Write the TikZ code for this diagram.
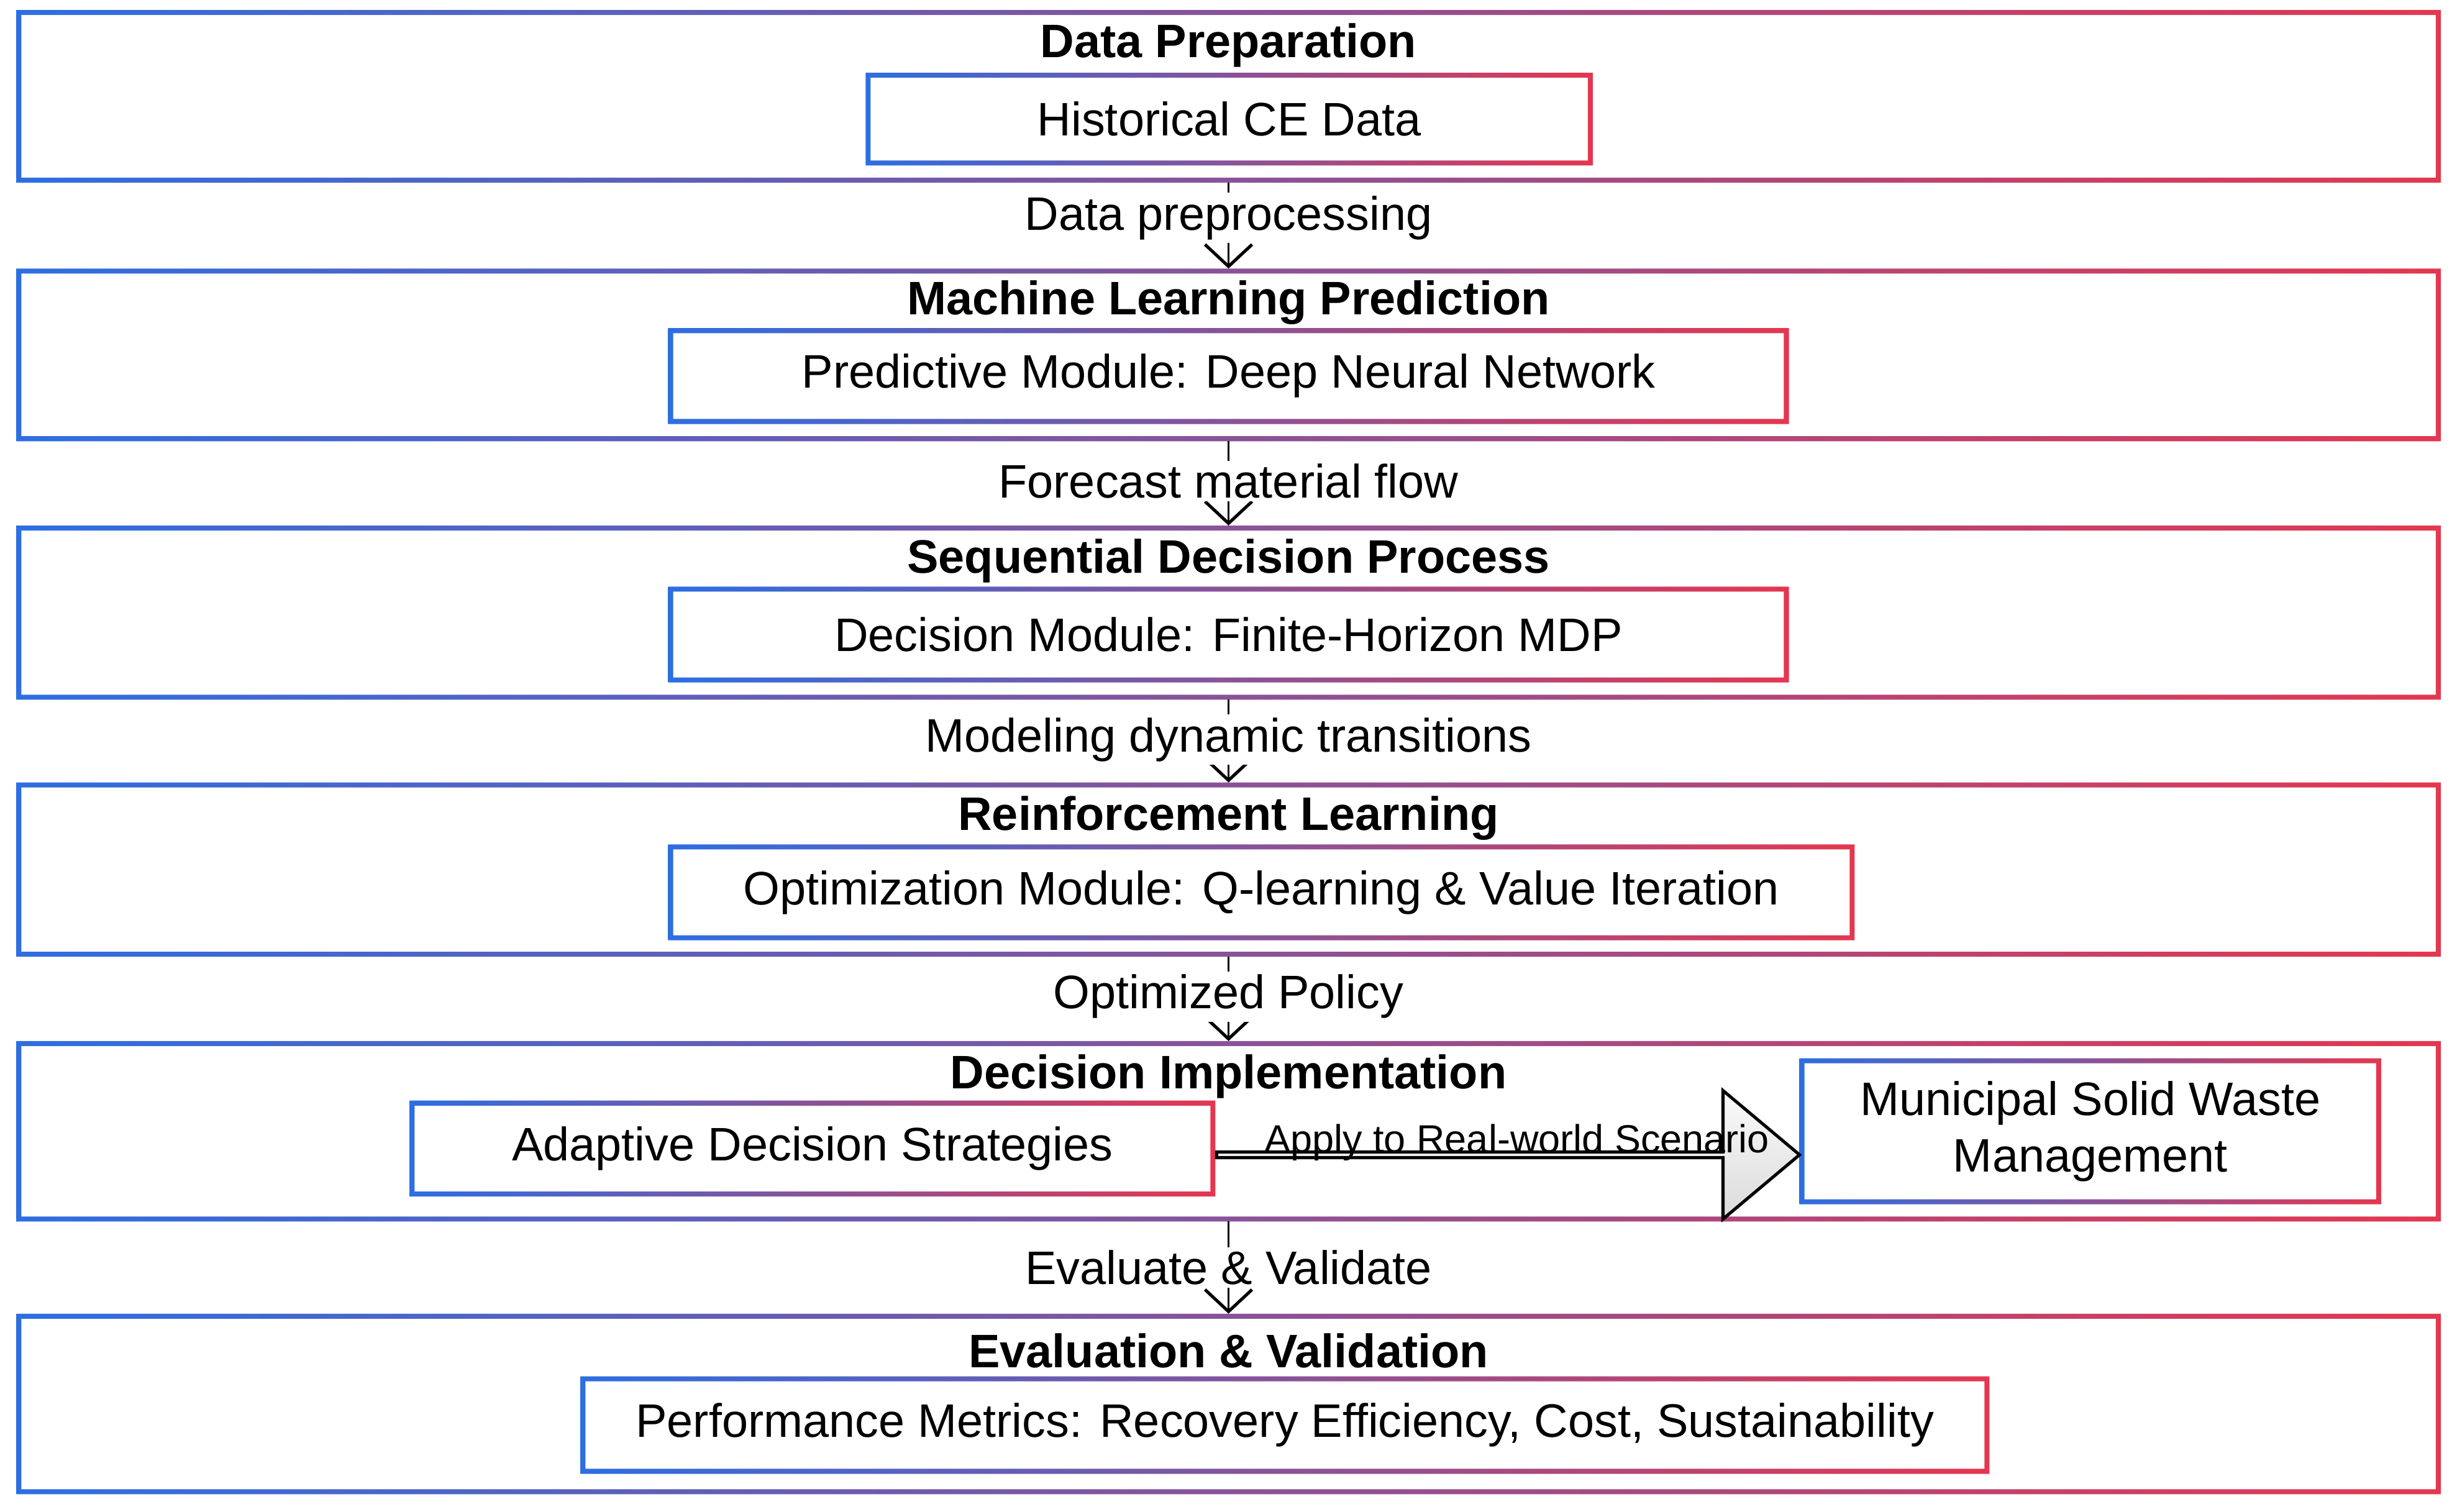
\documentclass[tikz,border=0pt]{standalone}
\usepackage{fontspec}
\setmainfont{Liberation Sans}
\usetikzlibrary{arrows.meta,calc,shapes.arrows}
\definecolor{bl}{RGB}{45,110,225}
\definecolor{rd}{RGB}{228,55,80}
\newcommand{\gborder}[1]{%
  \shade[left color=bl,right color=rd,even odd rule]
    ($(#1.south west)+(-1.6pt,-1.6pt)$) rectangle ($(#1.north east)+(1.6pt,1.6pt)$)
    (#1.south west) rectangle (#1.north east);}
\tikzset{
  outerbox/.style={minimum width=770pt,inner sep=0pt,fill=white},
  innerbox/.style={minimum height=27pt,inner sep=0pt,fill=white,font=\fontsize{15}{18}\selectfont},
  ttl/.style={font=\fontsize{15}{18}\selectfont\bfseries,inner sep=0pt},
  lbl/.style={font=\fontsize{15}{18}\selectfont,fill=white,inner sep=1pt},
  conn/.style={line width=0.7pt,-{Straight Barb[width=15pt,length=7pt,line width=1pt]}}
}
\begin{document}
\begin{tikzpicture}[x=0.5pt,y=-0.5pt]
\useasboundingbox[fill=white] (0,0) rectangle (1568,964.6);
% outer boxes
\node[outerbox,minimum height=51.5pt] (o1) at (784,61.5) {};
\node[outerbox,minimum height=51.5pt] (o2) at (784,226.5) {};
\node[outerbox,minimum height=52pt] (o3) at (784,391) {};
\node[outerbox,minimum height=52pt] (o4) at (784,555) {};
\node[outerbox,minimum height=54pt] (o5) at (784,722) {};
\node[outerbox,minimum height=54pt] (o6) at (784,896) {};
\foreach \n in {o1,o2,o3,o4,o5,o6}{\gborder{\n}}
% titles
\node[ttl] (t1) at (784,29) {Data Preparation};
\node[ttl] (t2) at (784,193) {Machine Learning Prediction};
\node[ttl] (t3) at (784,358) {Sequential Decision Process};
\node[ttl] (t4) at (784,522) {Reinforcement Learning};
\node[ttl] (t5) at (784,687) {Decision Implementation};
\node[ttl] (t6) at (784,862) {Evaluation \& Validation};
% inner boxes
\node[innerbox,minimum width=228.5pt,minimum height=26pt] (i1) at (784.5,76) {Historical CE Data};
\node[innerbox,minimum width=354pt] (i2) at (784,240) {Predictive Module: Deep Neural Network};
\node[innerbox,minimum width=354pt] (i3) at (784,405) {Decision Module: Finite-Horizon MDP};
\node[innerbox,minimum width=375pt] (i4) at (805,569.5) {Optimization Module: Q-learning \& Value Iteration};
\node[innerbox,minimum width=253.5pt] (i5) at (518.5,733) {Adaptive Decision Strategies};
\node[innerbox,minimum width=182pt,minimum height=43pt,align=center] (i6) at (1334,722) {Municipal Solid Waste\\Management};
\node[innerbox,minimum width=446pt,minimum height=27.5pt] (i7) at (820,909.5) {Performance Metrics: Recovery Efficiency, Cost, Sustainability};
\foreach \n in {i1,i2,i3,i4,i5,i6,i7}{\gborder{\n}}
% big arrow
\node[single arrow,draw=black,line width=1pt,top color=gray!4,bottom color=gray!28,
  minimum width=41pt,minimum height=186pt,single arrow head extend=10.5pt,
  single arrow tip angle=80,inner sep=0pt,anchor=west] (ar) at ($(i5.east)+(1.5pt,-2pt)$) {};
\node[font=\fontsize{12.5}{15}\selectfont,inner sep=0pt] (arl) at (968,729) {Apply to Real-world Scenario};
% connectors
\foreach \a/\b/\y/\t in {o1/o2/139/Data preprocessing,o2/o3/307/Forecast material flow,o3/o4/472/Modeling dynamic transitions,o4/o5/636/Optimized Policy,o5/o6/809/Evaluate \& Validate}{
  \draw[conn] ($(\a.south)+(0,-1.6pt)$) -- ($(\b.north)+(0,1.6pt)$);
  \node[lbl] at (784,\y) {\t};
}
\end{tikzpicture}
\end{document}
